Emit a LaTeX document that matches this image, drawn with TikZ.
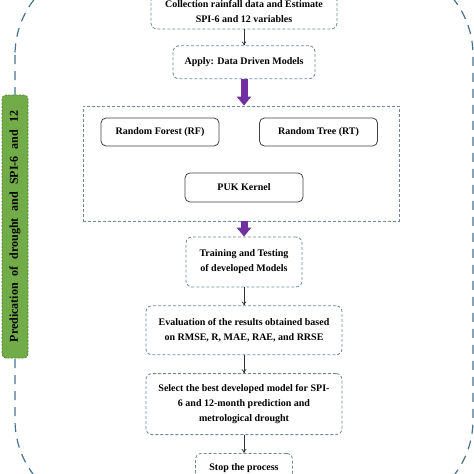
\documentclass[tikz,border=0pt]{standalone}
\usepackage{fontspec}
\setmainfont{Liberation Serif}
\usetikzlibrary{positioning,arrows.meta}
\definecolor{boxline}{HTML}{6E8896}
\definecolor{loopline}{HTML}{46738F}
\definecolor{greenfill}{HTML}{72AC48}
\definecolor{greenline}{HTML}{4F7F34}
\definecolor{purplearrow}{HTML}{7030A0}

\tikzset{
  stepnode/.style={draw=boxline, dashed, dash pattern=on 3pt off 2pt, line width=0.8pt,
    rounded corners=6pt, align=center, font=\fontsize{10}{15}\selectfont\bfseries,
    inner sep=2pt},
  modelnode/.style={draw=black!75, line width=0.8pt, rounded corners=5pt,
    minimum width=118pt, minimum height=28pt, font=\fontsize{10}{12}\selectfont\bfseries},
  thinarrow/.style={-{To[length=4pt,width=5pt]}, line width=0.7pt, black!80},
  fatarrow/.style={-{Triangle[length=9pt,width=14pt]}, line width=7pt, purplearrow}
}

\begin{document}
\begin{tikzpicture}[x=1pt,y=1pt]
\useasboundingbox (0,0) rectangle (474,-474);
\clip (0,0) rectangle (474,-474);

% outer loop
\draw[loopline, line width=1.2pt, dash pattern=on 9pt off 7pt, rounded corners=90pt]
  (15,35) rectangle (473,-510);

% side label
\node[draw=greenline, dashed, dash pattern=on 2pt off 1.5pt, line width=0.8pt, fill=greenfill,
  rounded corners=4pt, minimum width=263pt, minimum height=26pt, rotate=90,
  font=\fontsize{12}{14}\selectfont\bfseries] (side) at (15,-226.5)
  {\spaceskip=7pt Predication of drought and SPI-6 and 12};

% flow
\node[stepnode, minimum width=186pt, minimum height=34pt] (collect) at (244,-12)
  {Collection rainfall data and Estimate\\SPI-6 and 12 variables};
\node[stepnode, minimum width=142pt, minimum height=33pt, below=16pt of collect] (apply)
  {Apply: Data Driven Models};

\node[draw=boxline, dashed, dash pattern=on 3pt off 2pt, line width=0.8pt,
  minimum width=316pt, minimum height=115pt] (models) at (241,-163.5) {};
\node[modelnode] (rf) at (160,-132) {Random Forest (RF)};
\node[modelnode] (rt) at (318.5,-132) {Random Tree (RT)};
\node[modelnode, minimum height=29pt] (puk) at (244,-187.5) {PUK Kernel};

\node[stepnode, minimum width=116pt, minimum height=50pt] (train) at (244,-262)
  {Training and Testing\\of developed Models};
\node[stepnode, minimum width=196pt, minimum height=49pt, below=18pt of train] (eval)
  {Evaluation of the results obtained based\\on RMSE, R, MAE, RAE, and RRSE};
\node[stepnode, minimum width=196pt, minimum height=61pt, below=18pt of eval] (select)
  {Select the best developed model for SPI-\\6 and 12-month prediction and\\metrological drought};
\node[stepnode, minimum width=97pt, minimum height=30pt, below=18pt of select] (stop)
  {Stop the process};

% arrows
\draw[thinarrow] (collect) -- (apply);
\draw[fatarrow] (apply.south) -- (apply.south |- models.north);
\draw[fatarrow] (train.north |- models.south) -- (train.north);
\draw[thinarrow] (train) -- (eval);
\draw[thinarrow] (eval) -- (select);
\draw[thinarrow] (select) -- (stop);
\end{tikzpicture}
\end{document}
